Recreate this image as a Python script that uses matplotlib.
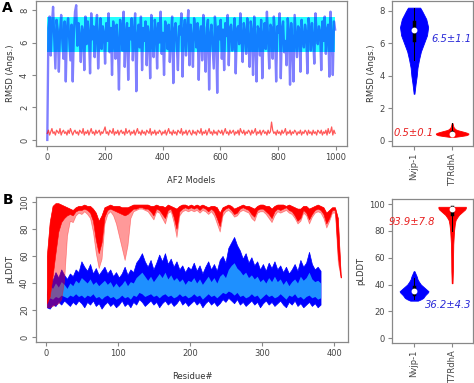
import numpy as np
import matplotlib
matplotlib.use('Agg')
import matplotlib.pyplot as plt

# ---- panel A: RMSD per AF2 model (every 4th model) ----
models = np.arange(1, 1001, 4)
rmsd_nvjp = [
    0.0, 6.9, 7.6, 5.2, 7.1, 8.2, 6.3, 4.4, 7.4, 6.8, 4.2, 6.6, 7.7, 6.1, 5.0, 7.3, 3.6, 6.9, 7.5, 6.2, 4.9, 7.1, 3.6, 6.6, 7.9,
    8.3, 5.8, 7.2, 6.4, 4.8, 7.0, 6.7, 4.3, 7.6, 5.9, 7.3, 6.5, 4.1, 7.8, 6.2, 7.0, 5.1, 6.8, 7.7, 4.4, 6.3, 7.5, 5.6, 7.0, 6.6,
    4.7, 7.2, 6.1, 7.8, 5.4, 6.9, 4.0, 7.3, 6.4, 5.0, 7.1, 6.0, 3.1, 7.4, 6.8, 5.5, 7.9, 4.5, 6.6, 7.2, 3.7, 6.9, 6.2, 7.5, 4.9,
    6.7, 7.8, 3.0, 6.4, 7.1, 5.7, 7.6, 4.3, 6.9, 6.1, 7.3, 4.6, 7.0, 6.5, 3.8, 7.7, 6.2, 5.1, 7.4, 6.8, 4.4, 7.2, 6.0, 7.9, 5.3,
    6.6, 4.0, 7.3, 6.9, 5.6, 7.1, 4.8, 6.4, 7.6, 3.5, 6.8, 7.2, 5.9, 4.3, 7.0, 6.5, 7.8, 3.9, 6.7, 7.4, 5.2, 6.9, 8.0, 4.6, 7.1,
    6.3, 4.5, 7.5, 6.8, 5.7, 7.2, 3.7, 6.6, 7.0, 4.9, 7.7, 6.1, 4.2, 6.9, 7.4, 3.1, 6.5, 7.1, 5.8, 4.4, 7.6, 6.7, 2.9, 7.0, 6.2,
    7.4, 5.0, 6.8, 4.3, 7.2, 6.4, 7.7, 4.6, 6.9, 7.1, 5.5, 6.3, 7.5, 4.1, 6.8, 7.0, 5.9, 7.8, 6.4, 4.8, 7.2, 6.6, 5.3, 7.5, 6.1,
    4.5, 7.3, 6.7, 4.0, 7.6, 6.2, 3.6, 7.0, 6.8, 5.2, 7.4, 3.8, 6.5, 7.2, 5.6, 7.9, 6.3, 4.4, 7.1, 6.9, 5.0, 7.6, 6.4, 3.6, 7.0,
    6.6, 7.8, 3.8, 6.9, 7.3, 5.4, 6.1, 4.6, 7.5, 6.7, 3.4, 7.2, 6.0, 3.6, 7.7, 6.4, 5.1, 7.0, 6.8, 4.2, 7.4, 6.3, 5.7, 7.1, 6.6,
    4.1, 7.5, 6.9, 5.5, 7.2, 6.2, 4.7, 7.8, 6.5, 5.9, 7.0, 6.7, 4.3, 7.3, 6.1, 7.6, 5.3, 6.8, 7.1, 3.9, 7.9, 6.4, 4.0, 7.3, 6.8,
]
rmsd_t7 = [
    0.4, 0.6, 0.3, 0.5, 0.7, 0.4, 0.5, 0.3, 0.6, 0.5, 0.4, 0.7, 0.3, 0.5, 0.6, 0.4, 0.5, 0.3, 0.6, 0.4, 0.7, 0.5, 0.3, 0.5, 0.6,
    0.4, 0.5, 0.3, 0.6, 0.5, 0.4, 0.7, 0.3, 0.5, 0.4, 0.6, 0.3, 0.5, 0.7, 0.4, 0.5, 0.3, 0.6, 0.4, 0.5, 0.6, 0.3, 0.5, 0.4, 0.6,
    0.8, 0.4, 0.5, 0.3, 0.6, 0.5, 0.4, 0.7, 0.3, 0.5, 0.4, 0.6, 0.3, 0.5, 0.6, 0.4, 0.5, 0.3, 0.7, 0.4, 0.5, 0.6, 0.3, 0.5, 0.4,
    0.6, 0.3, 0.5, 0.7, 0.4, 0.5, 0.3, 0.6, 0.4, 0.5, 0.3, 0.6, 0.5, 0.4, 0.7, 0.3, 0.5, 0.4, 0.6, 0.3, 0.5, 0.4, 0.6, 0.5, 0.3,
    0.5, 0.4, 0.6, 0.3, 0.5, 0.7, 0.4, 0.5, 0.3, 0.6, 0.4, 0.5, 0.3, 0.6, 0.5, 0.4, 0.7, 0.3, 0.5, 0.4, 0.6, 0.3, 0.5, 0.6, 0.4,
    0.3, 0.6, 0.4, 0.5, 0.3, 0.6, 0.5, 0.4, 0.7, 0.3, 0.5, 0.4, 0.6, 0.3, 0.5, 0.7, 0.4, 0.5, 0.3, 0.6, 0.4, 0.5, 0.3, 0.6, 0.5,
    0.4, 0.6, 0.3, 0.5, 0.7, 0.4, 0.5, 0.3, 0.6, 0.4, 0.5, 0.6, 0.3, 0.5, 0.4, 0.6, 0.3, 0.7, 0.5, 0.4, 0.6, 0.3, 0.5, 0.4, 0.6,
    0.5, 0.3, 0.6, 0.4, 0.5, 0.7, 0.3, 0.5, 0.4, 0.6, 0.3, 0.5, 0.6, 0.4, 0.5, 0.3, 0.6, 0.4, 0.5, 1.1, 0.6, 0.4, 0.5, 0.3, 0.6,
    0.4, 0.5, 0.3, 0.6, 0.4, 0.5, 0.7, 0.3, 0.5, 0.4, 0.6, 0.3, 0.5, 0.4, 0.6, 0.5, 0.3, 0.5, 0.4, 0.6, 0.3, 0.5, 0.4, 0.6, 0.5,
    0.3, 0.6, 0.4, 0.5, 0.3, 0.6, 0.4, 0.5, 0.3, 0.6, 0.5, 0.4, 0.6, 0.3, 0.5, 0.4, 0.6, 0.3, 0.7, 0.4, 0.5, 0.8, 0.3, 0.6, 0.4,
]
nvjp_mean, nvjp_sd = 6.5, 1.1
t7_mean, t7_sd = 0.5, 0.1

# ---- panel B: pLDDT envelopes over all models (every 4th residue) ----
res_nvjp = np.arange(1, 383, 4)
nvjp_hi = [
    32, 45, 42, 48, 44, 50, 46, 43, 47, 45, 50, 48, 56, 52, 49, 54, 47, 51, 46, 49, 52, 47, 50, 45, 48,
    44, 47, 52, 46, 50, 48, 55, 58, 62, 56, 52, 57, 50, 55, 61, 56, 62, 54, 58, 52, 56, 50, 53, 48, 52,
    50, 55, 49, 53, 47, 52, 56, 50, 54, 49, 57, 60, 55, 66, 70, 74, 68, 64, 58, 62, 55, 59, 53, 56, 50,
    54, 49, 55, 51, 56, 50, 53, 48, 52, 47, 50, 54, 49, 57, 52, 55, 63, 54, 50, 52, 49,
]
nvjp_lo = [
    22, 21, 24, 23, 26, 24, 27, 25, 23, 26, 24, 27, 25, 22, 26, 24, 27, 23, 25, 21, 24, 26, 23, 25, 22,
    24, 27, 23, 25, 22, 26, 24, 28, 26, 23, 25, 27, 24, 26, 22, 25, 27, 24, 26, 23, 25, 28, 24, 26, 23,
    25, 27, 24, 26, 22, 25, 27, 24, 26, 23, 25, 28, 26, 29, 27, 25, 28, 24, 26, 23, 25, 27, 24, 26, 22,
    25, 27, 24, 26, 23, 25, 27, 24, 22, 26, 24, 27, 23, 25, 22, 24, 26, 23, 25, 22, 24,
]
nvjp_core_hi = [
    30, 38, 36, 40, 37, 41, 39, 36, 40, 38, 42, 40, 44, 42, 40, 43, 39, 41, 38, 40, 42, 39, 41, 37, 40,
    37, 39, 42, 38, 41, 40, 44, 46, 48, 45, 42, 45, 41, 44, 47, 44, 48, 43, 46, 42, 44, 41, 43, 39, 42,
    41, 44, 40, 43, 39, 42, 45, 41, 44, 40, 45, 47, 44, 50, 53, 55, 51, 49, 46, 48, 44, 46, 43, 45, 41,
    43, 40, 44, 41, 45, 41, 43, 39, 42, 38, 41, 43, 40, 45, 42, 44, 48, 43, 41, 42, 40,
]
nvjp_core_lo = [
    26, 29, 28, 30, 29, 31, 30, 29, 31, 30, 32, 30, 31, 29, 31, 30, 32, 29, 30, 28, 30, 31, 29, 30, 28,
    29, 31, 29, 30, 28, 31, 30, 33, 32, 30, 31, 32, 30, 31, 29, 31, 32, 30, 31, 29, 30, 32, 30, 31, 29,
    30, 32, 30, 31, 28, 30, 32, 30, 31, 29, 31, 33, 32, 34, 33, 31, 33, 30, 31, 29, 30, 32, 30, 31, 28,
    30, 32, 30, 31, 29, 30, 32, 30, 28, 31, 30, 32, 29, 30, 28, 30, 31, 29, 30, 28, 29,
]

res_t7 = np.arange(1, 410, 4)
t7_hi = [
    60, 85, 97, 99, 99, 98, 97, 96, 95, 94, 96, 97, 97, 98, 97, 97, 95, 92, 86, 90, 96, 97, 98, 97, 97,
    97, 96, 96, 96, 97, 98, 98, 98, 98, 98, 98, 97, 97, 98, 97, 97, 96, 98, 97, 96, 95, 97, 98, 98, 97,
    98, 97, 98, 97, 98, 97, 96, 97, 97, 96, 92, 96, 97, 98, 97, 95, 96, 97, 98, 97, 97, 96, 95, 97, 98,
    98, 97, 97, 95, 97, 98, 98, 98, 97, 98, 97, 96, 95, 95, 97, 97, 95, 96, 97, 98, 97, 96, 92, 94, 96,
    96, 88, 46,
]
t7_lo = [
    22, 22, 23, 24, 25, 28, 42, 75, 86, 85, 90, 92, 91, 93, 91, 88, 78, 62, 51, 58, 84, 91, 93, 90, 84,
    75, 66, 57, 68, 88, 93, 94, 95, 95, 94, 93, 90, 87, 93, 92, 88, 84, 92, 93, 85, 74, 90, 93, 94, 93,
    94, 93, 94, 92, 94, 93, 91, 93, 90, 84, 78, 90, 93, 94, 92, 89, 90, 93, 94, 93, 92, 88, 86, 92, 93,
    93, 91, 88, 85, 90, 93, 92, 93, 94, 92, 91, 88, 84, 86, 92, 90, 84, 89, 92, 93, 92, 88, 81, 86, 92,
    92, 55, 44,
]
t7_core_lo = [
    25, 30, 45, 62, 78, 85, 88, 90, 91, 90, 93, 94, 94, 95, 94, 92, 86, 72, 62, 70, 89, 94, 95, 94, 93,
    92, 91, 90, 91, 93, 95, 95, 96, 96, 95, 95, 93, 90, 95, 94, 91, 88, 94, 95, 89, 80, 93, 95, 96, 95,
    96, 95, 96, 94, 96, 95, 93, 95, 93, 88, 82, 93, 95, 96, 94, 91, 92, 95, 96, 95, 94, 91, 89, 94, 95,
    95, 93, 91, 88, 93, 95, 94, 95, 96, 94, 93, 90, 86, 88, 94, 92, 87, 91, 94, 95, 94, 91, 84, 88, 94,
    94, 60, 44,
]
plddt_nvjp_mean, plddt_nvjp_sd = 36.2, 4.3
plddt_t7_mean, plddt_t7_sd = 93.9, 7.8

# ---- violin profiles (level, half width) ----
groups = ['Nvjp-1', 'T7RdhA']
vA_nvjp_y = [2.9, 3.5, 4.0, 4.5, 5.0, 5.5, 6.0, 6.5, 7.0, 7.5, 8.0, 8.2]
vA_nvjp_w = [0.01, 0.04, 0.07, 0.09, 0.13, 0.18, 0.26, 0.34, 0.37, 0.32, 0.21, 0.16]
vA_nvjp_stats = [5.0, 6.2, 6.8, 7.3, 8.2]   # whisker lo, q1, median, q3, whisker hi
vA_t7_y = [0.25, 0.3, 0.35, 0.4, 0.45, 0.5, 0.55, 0.6, 0.65, 0.7, 0.8, 0.9, 1.0, 1.1]
vA_t7_w = [0.08, 0.24, 0.37, 0.42, 0.43, 0.39, 0.32, 0.24, 0.16, 0.1, 0.05, 0.03, 0.02, 0.01]
vA_t7_stats = [0.3, 0.4, 0.45, 0.55, 1.1]
vB_nvjp_y = [28, 29, 30, 32, 34, 35, 36, 38, 40, 42, 44, 46, 48, 50]
vB_nvjp_w = [0.1, 0.18, 0.24, 0.29, 0.36, 0.38, 0.34, 0.26, 0.18, 0.13, 0.09, 0.07, 0.04, 0.01]
vB_nvjp_stats = [29, 33, 35.5, 38, 45]
vB_t7_y = [41, 50, 60, 70, 80, 85, 88, 90, 92, 94, 96, 97, 98]
vB_t7_w = [0.01, 0.02, 0.024, 0.03, 0.05, 0.07, 0.09, 0.13, 0.18, 0.26, 0.34, 0.36, 0.36]
vB_t7_stats = [80, 93, 96, 97.5, 98]

BLUE = '#0000ff'
RED = '#ff0000'
GREY = '#888888'
plt.rcParams['font.family'] = 'DejaVu Sans'
plt.rcParams['font.size'] = 6

fig = plt.figure(figsize=(4.74, 3.83), dpi=100)
axA = fig.add_axes([0.076, 0.619, 0.656, 0.378])
axAv = fig.add_axes([0.827, 0.619, 0.171, 0.378])
axB = fig.add_axes([0.076, 0.107, 0.658, 0.379])
axBv = fig.add_axes([0.827, 0.104, 0.171, 0.376])


def style(ax, rot_y):
    for s in ax.spines.values():
        s.set_color(GREY)
        s.set_linewidth(0.9)
    ax.tick_params(colors='#444444', length=3, width=0.8, labelsize=6, pad=2)
    ax.tick_params(axis='both', color=GREY)
    if rot_y:
        for t in ax.get_yticklabels():
            t.set_rotation(90)
            t.set_va('center')


# panel A
axA.fill_between([models[0], models[-1]], nvjp_mean - nvjp_sd, nvjp_mean + nvjp_sd,
                 color='#00ffff', alpha=0.85, lw=0, zorder=1)
axA.plot(models, rmsd_nvjp, color=BLUE, alpha=0.5, lw=1.7, zorder=2)
axA.plot(models, rmsd_t7, color=RED, alpha=0.65, lw=0.9, zorder=2)
axA.set_xlim(-38, 1038)
axA.set_ylim(-0.37, 8.55)
axA.set_xticks(range(0, 1001, 200))
axA.set_yticks(range(0, 9, 2))
axA.set_xlabel('AF2 Models', labelpad=10, color='#333333')
axA.set_ylabel('RMSD (Angs.)', labelpad=4, color='#333333')
style(axA, True)

# panel B
axB.fill_between(res_nvjp, nvjp_lo, nvjp_hi, color=BLUE, lw=0.5, zorder=1)
axB.fill_between(res_nvjp, nvjp_core_lo, nvjp_core_hi, color='#1e90ff', lw=0, zorder=2)
axB.fill_between(res_t7, t7_lo, t7_hi, color=RED, alpha=0.4, lw=0.5, zorder=3)
axB.fill_between(res_t7, t7_core_lo, t7_hi, color=RED, lw=0.4, zorder=4)
axB.set_xlim(-14, 419)
axB.set_ylim(-3.7, 103.7)
axB.set_xticks(range(0, 401, 100))
axB.set_yticks(range(0, 101, 20))
axB.set_xlabel('Residue#', labelpad=10, color='#333333')
axB.set_ylabel('pLDDT', labelpad=4, color='#333333')
style(axB, True)


def violin(ax, pos, ys, ws, stats, color):
    ys = np.array(ys)
    ws = np.array(ws)
    ax.fill_betweenx(ys, pos - ws, pos + ws, color=color, lw=0.6, edgecolor=color, zorder=2)
    ax.plot([pos, pos], [stats[0], stats[4]], color='black', lw=0.7, zorder=3)
    ax.plot([pos, pos], [stats[1], stats[3]], color='black', lw=2.5, zorder=3)
    ax.plot(pos, stats[2], 'o', color='white', ms=3.2, zorder=4)


violin(axAv, 1, vA_nvjp_y, vA_nvjp_w, vA_nvjp_stats, BLUE)
violin(axAv, 2, vA_t7_y, vA_t7_w, vA_t7_stats, RED)
axAv.set_ylim(-0.31, 8.6)
axAv.set_yticks(range(0, 9, 2))
axAv.set_ylabel('RMSD (Angs.)', labelpad=3, color='#333333')
axAv.text(1.45, 6.3, f'{nvjp_mean}\u00b1{nvjp_sd}', color='#2a2ad8', style='italic',
          fontsize=7.2, va='center', ha='left')
axAv.text(1.52, 0.5, f'{t7_mean}\u00b1{t7_sd}', color='#e82020', style='italic',
          fontsize=7.2, va='center', ha='right')

violin(axBv, 1, vB_nvjp_y, vB_nvjp_w, vB_nvjp_stats, BLUE)
violin(axBv, 2, vB_t7_y, vB_t7_w, vB_t7_stats, RED)
axBv.set_ylim(-3.7, 103.7)
axBv.set_yticks(range(0, 101, 20))
axBv.set_ylabel('pLDDT', labelpad=3, color='#333333')
axBv.text(1.56, 87, f'{plddt_t7_mean}\u00b1{plddt_t7_sd}', color='#e82020', style='italic',
          fontsize=7.2, va='center', ha='right')
axBv.text(1.28, 24.5, f'{plddt_nvjp_mean}\u00b1{plddt_nvjp_sd}', color='#2a2ad8', style='italic',
          fontsize=7.2, va='center', ha='left')

for ax in (axAv, axBv):
    ax.set_xlim(0.42, 2.55)
    ax.set_xticks([1, 2])
    ax.set_xticklabels(groups, rotation=90)
    style(ax, False)

fig.text(0.005, 0.978, 'A', fontsize=10, fontweight='bold', va='center')
fig.text(0.005, 0.478, 'B', fontsize=10, fontweight='bold', va='center')

fig.savefig('out.png', dpi=100)
